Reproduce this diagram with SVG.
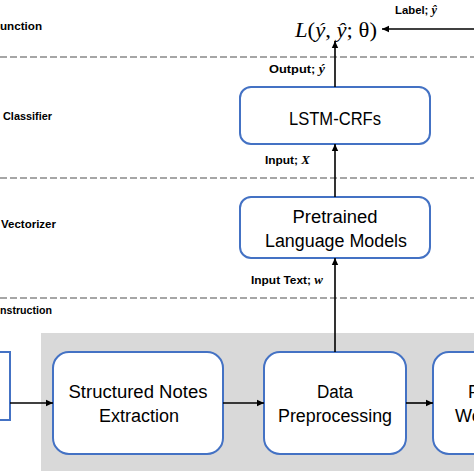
<svg xmlns="http://www.w3.org/2000/svg" width="474" height="474" viewBox="0 0 474 474">
<style>
.dash{stroke:#a6a6a6;stroke-width:2.2;stroke-dasharray:7,3;fill:none}
.box{fill:#fff;stroke:#4472c4;stroke-width:2}
.lbl{font-family:"Liberation Sans",Arial,sans-serif;font-weight:bold;font-size:11.5px;fill:#000}
.var{font-family:"Liberation Serif","Times New Roman",serif;font-style:italic;font-size:12.5px}
.txt{font-family:"Liberation Sans",Arial,sans-serif;font-size:18px;fill:#000;text-anchor:middle}
.math{font-family:"Liberation Serif","Times New Roman",serif;font-size:22px;fill:#000}
.ln{stroke:#000;stroke-width:1.6;fill:none}
</style>
<defs>
<marker id="ah" markerWidth="8" markerHeight="8" refX="7" refY="4" orient="auto" markerUnits="userSpaceOnUse">
<path d="M0,0.8 L7,4 L0,7.2 Z" fill="#000"/>
</marker>
</defs>
<rect width="474" height="474" fill="#fff"/>
<g id="layers">
<line class="dash" x1="0" y1="57" x2="474" y2="57"/>
<line class="dash" x1="0" y1="178" x2="474" y2="178"/>
<line class="dash" x1="0" y1="298" x2="474" y2="298"/>
<text class="lbl" x="0" y="30" textLength="42" lengthAdjust="spacingAndGlyphs">unction</text>
<text class="lbl" x="3" y="120" textLength="49" lengthAdjust="spacingAndGlyphs">Classifier</text>
<text class="lbl" x="1" y="228" textLength="55" lengthAdjust="spacingAndGlyphs">Vectorizer</text>
<text class="lbl" x="0" y="314" textLength="52" lengthAdjust="spacingAndGlyphs">nstruction</text>
</g>
<rect id="panel" x="41" y="333" width="433" height="138" fill="#d9d9d9"/>
<g id="loss">
<text class="math" x="295" y="37" textLength="82" lengthAdjust="spacingAndGlyphs"><tspan font-style="italic">L</tspan>(<tspan font-style="italic">ý</tspan>, <tspan font-style="italic">ŷ</tspan>; θ)</text>
</g>
<g id="lstm">
<rect class="box" x="240" y="87" width="190" height="57" rx="11"/>
<text class="txt" x="335" y="125" textLength="92" lengthAdjust="spacingAndGlyphs">LSTM-CRFs</text>
</g>
<g id="plm">
<rect class="box" x="240" y="197" width="190" height="61" rx="11"/>
<text class="txt" x="335" y="223" textLength="85" lengthAdjust="spacingAndGlyphs">Pretrained</text>
<text class="txt" x="336" y="247" textLength="142" lengthAdjust="spacingAndGlyphs">Language Models</text>
</g>
<g id="source">
<rect class="box" x="-10" y="352" width="20" height="68"/>
</g>
<g id="sne">
<rect class="box" x="53" y="352" width="170" height="102" rx="16"/>
<text class="txt" x="138" y="398" textLength="139" lengthAdjust="spacingAndGlyphs">Structured Notes</text>
<text class="txt" x="139" y="422" textLength="80" lengthAdjust="spacingAndGlyphs">Extraction</text>
</g>
<g id="dp">
<rect class="box" x="264" y="352" width="142" height="102" rx="16"/>
<text class="txt" x="335" y="398" textLength="36" lengthAdjust="spacingAndGlyphs">Data</text>
<text class="txt" x="335" y="422" textLength="114" lengthAdjust="spacingAndGlyphs">Preprocessing</text>
</g>
<g id="third">
<rect class="box" x="433" y="352" width="70" height="102" rx="16"/>
<text class="txt" style="text-anchor:start" x="468" y="398">F</text>
<text class="txt" style="text-anchor:start" x="455" y="422">We</text>
</g>
<g id="connectors">
<line class="ln" x1="474" y1="29" x2="382" y2="29" marker-end="url(#ah)"/>
<line class="ln" x1="335" y1="87" x2="335" y2="41" marker-end="url(#ah)"/>
<line class="ln" x1="335" y1="197" x2="335" y2="144" marker-end="url(#ah)"/>
<line class="ln" x1="335" y1="352" x2="335" y2="258" marker-end="url(#ah)"/>
<line class="ln" x1="10" y1="403" x2="53" y2="403" marker-end="url(#ah)"/>
<line class="ln" x1="223" y1="403" x2="264" y2="403" marker-end="url(#ah)"/>
<line class="ln" x1="406" y1="403" x2="433" y2="403" marker-end="url(#ah)"/>
<text class="lbl" x="395" y="14" textLength="42" lengthAdjust="spacingAndGlyphs">Label; <tspan class="var">ŷ</tspan></text>
<text class="lbl" x="269" y="73" textLength="56" lengthAdjust="spacingAndGlyphs">Output; <tspan class="var">ý</tspan></text>
<text class="lbl" x="265" y="164" textLength="45" lengthAdjust="spacingAndGlyphs">Input; <tspan class="var">X</tspan></text>
<text class="lbl" x="251" y="284" textLength="72" lengthAdjust="spacingAndGlyphs">Input Text; <tspan class="var">w</tspan></text>
</g>
</svg>
